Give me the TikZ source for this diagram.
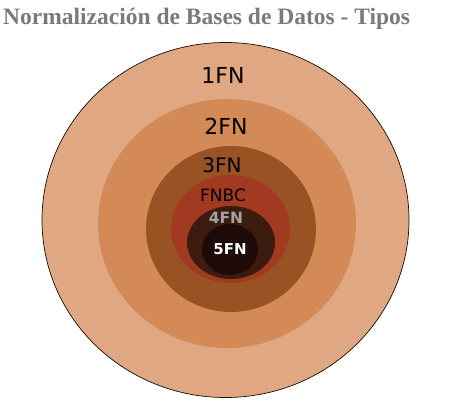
\documentclass[tikz,border=0pt]{standalone}
\usepackage{fontspec}
\setmainfont{DejaVu Sans}
\newfontfamily\titlefont{Liberation Serif}
\definecolor{c1}{HTML}{DFA882}
\definecolor{c2}{HTML}{D48A57}
\definecolor{c3}{HTML}{985224}
\definecolor{c4}{HTML}{A23A22}
\definecolor{c5}{HTML}{3C1C0E}
\definecolor{c6}{HTML}{1E0B08}
\definecolor{titlegrey}{HTML}{7A7A7A}
\definecolor{lbgrey}{HTML}{A3A3A3}
\begin{document}
\begin{tikzpicture}[x=1pt,y=-1pt,
  lbl/.style={inner sep=0pt, anchor=center}]
\useasboundingbox (0,0) rectangle (465,412);
\node[anchor=base west, inner sep=0pt, text=titlegrey, font=\titlefont\bfseries\fontsize{23.5}{28}\selectfont] (title) at (3,25) {Normalización de Bases de Datos - Tipos};
\fill[c1, draw=black!85!c3, line width=0.7pt] (225.5,220) ellipse [x radius=183.5, y radius=177.5];
\fill[c2] (227,223.5) ellipse [x radius=129, y radius=124.5];
\fill[c3] (231,229) ellipse [x radius=85, y radius=83];
\fill[c4] (230.5,229) ellipse [x radius=59.5, y radius=54];
\fill[c5] (231,242.5) ellipse [x radius=44, y radius=36.5];
\fill[c6] (230,249.5) ellipse [x radius=28, y radius=25.5];
\node[lbl, font=\fontsize{22}{26}\selectfont] (n1) at (223,75) {1FN};
\node[lbl, font=\fontsize{22}{26}\selectfont] (n2) at (226,126) {2FN};
\node[lbl, font=\fontsize{20}{24}\selectfont] (n3) at (222,165) {3FN};
\node[lbl, font=\fontsize{17}{20}\selectfont] (nbc) at (223,195) {FNBC};
\node[lbl, text=lbgrey, font=\bfseries\fontsize{15.5}{18}\selectfont] (n4) at (226,218) {4FN};
\node[lbl, text=white, font=\bfseries\fontsize{15}{18}\selectfont] (n5) at (230,249) {5FN};
\end{tikzpicture}
\end{document}
